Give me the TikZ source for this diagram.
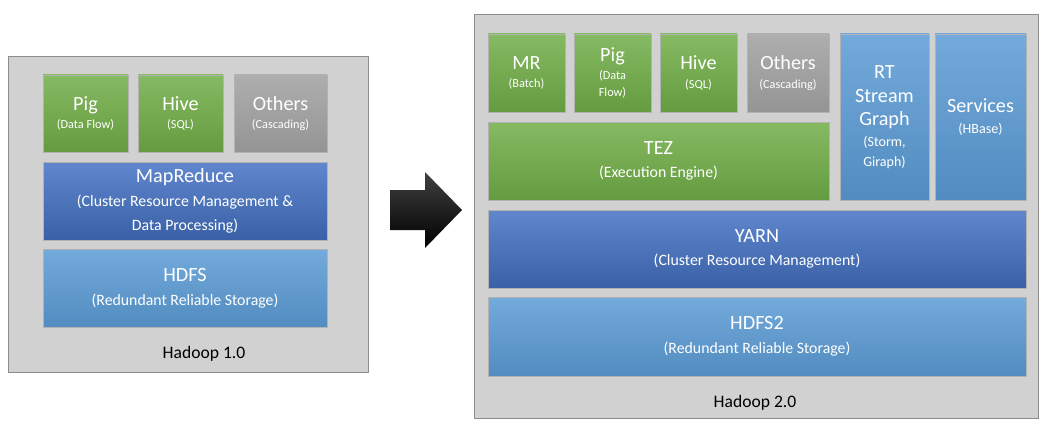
\documentclass[tikz,border=0pt]{standalone}
\usepackage{fontspec}
\setmainfont{Carlito}
\definecolor{grn}{HTML}{70AD47}
\definecolor{dblu}{HTML}{4472C4}
\definecolor{lblu}{HTML}{5B9BD5}
\definecolor{gry}{HTML}{A5A5A5}
\begin{document}
\begin{tikzpicture}[x=0.02cm,y=-0.02cm,
  frame/.style={fill=black!18,draw=black!45,line width=0.5pt},
  blk/.style={draw=white!70!black,line width=0.3pt,text=white,align=center},
  g/.style={blk,top color=grn!85!white,bottom color=grn!90!black},
  gy/.style={blk,top color=gry!90!white,bottom color=gry!90!black},
  db/.style={blk,top color=dblu!85!white,bottom color=dblu!85!black},
  lb/.style={blk,top color=lblu!85!white,bottom color=lblu!90!black},
  big/.style={font=\fontsize{11.5}{13.5}\selectfont}]
\newcommand\smt[1]{{\fontsize{7}{8}\selectfont #1}}
\newcommand\mdt[1]{{\fontsize{9}{11.5}\selectfont #1}}
\useasboundingbox (0,0) rectangle (1047,439);
% left
\path[frame] (8,56) rectangle (368,372);
\path[g] (43,75) rectangle (128,152) node[midway,big] (pig1) {Pig\\[-3pt]\smt{(Data Flow)}};
\path[g] (138,75) rectangle (223,152) node[midway,big] (hive1) {Hive\\[-3pt]\smt{(SQL)}};
\path[gy] (234,75) rectangle (327,152) node[midway,big] (oth1) {Others\\[-3pt]\smt{(Cascading)}};
\path[db] (43,162) rectangle (327,240) node[midway,big] (mr1) {MapReduce\\\mdt{(Cluster Resource Management \&}\\\mdt{Data Processing)}};
\path[lb] (43,249) rectangle (327,327) node[midway,big] (hdfs1) {HDFS\\\mdt{(Redundant Reliable Storage)}};
\node[font=\fontsize{10}{12}\selectfont] (h1) at (204,354) {Hadoop 1.0};
% arrow
\path[top color=black!75,bottom color=black] (390,190) -- (425,190) -- (425,172) -- (462,210) -- (425,248) -- (425,230) -- (390,230) -- cycle;
% right
\path[frame] (474,14) rectangle (1038,418);
\path[g] (488,34) rectangle (565,112) node[midway,big] (mr2) {MR\\[-3pt]\smt{(Batch)}};
\path[g] (574,34) rectangle (651,112) node[midway,big] (pig2) {Pig\\[-3pt]\smt{(Data}\\[-4pt]\smt{Flow)}};
\path[g] (660,34) rectangle (737,112) node[midway,big] (hive2) {Hive\\[-3pt]\smt{(SQL)}};
\path[gy] (747,34) rectangle (829,112) node[midway,big] (oth2) {Others\\[-3pt]\smt{(Cascading)}};
\path[lb] (840,34) rectangle (929,200) node[midway,big] (rt) {RT\\Stream\\Graph\\[-2pt]{\fontsize{8}{9.5}\selectfont (Storm,}\\[-2pt]{\fontsize{8}{9.5}\selectfont Giraph)}};
\path[lb] (935,34) rectangle (1026,200) node[midway,big] (svc) {Services\\[-2pt]{\fontsize{8}{9.5}\selectfont (HBase)}};
\path[g] (488,122) rectangle (829,200) node[midway,big] (tez) {TEZ\\\mdt{(Execution Engine)}};
\path[db] (488,210) rectangle (1026,288) node[midway,big] (yarn) {YARN\\\mdt{(Cluster Resource Management)}};
\path[lb] (488,297) rectangle (1026,376) node[midway,big] (hdfs2) {HDFS2\\\mdt{(Redundant Reliable Storage)}};
\node[font=\fontsize{10}{12}\selectfont] (h2) at (755,403) {Hadoop 2.0};
\end{tikzpicture}
\end{document}
